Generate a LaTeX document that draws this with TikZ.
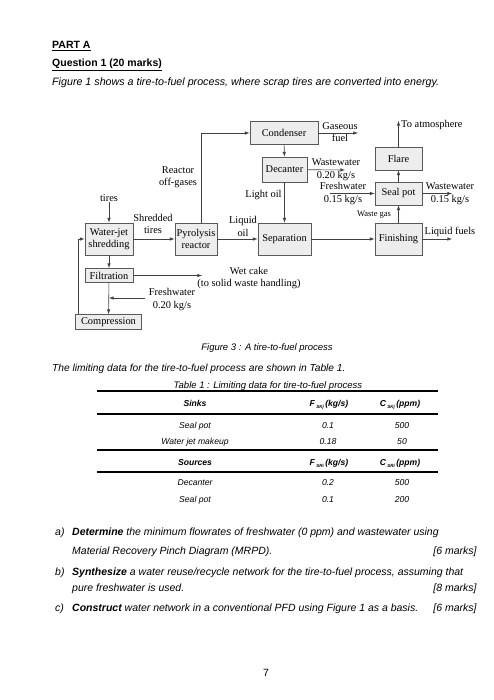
\documentclass[tikz,border=0pt]{standalone}
\usepackage{fontspec}
\setmainfont{Liberation Sans}
\newfontfamily\pfdfont{Liberation Serif}
\usetikzlibrary{arrows,positioning}

\newcommand{\pfdsize}{\pfdfont\fontsize{10.4}{12.5}\selectfont}
\newcommand{\docsize}{\fontsize{10.5}{12}\selectfont}
\newcommand{\tabsize}{\fontsize{8.6}{10}\selectfont}
\newcommand{\subs}[1]{\raisebox{-2.5pt}{\fontsize{4.5}{5}\selectfont #1}}

\begin{document}
\begin{tikzpicture}[x=1pt,y=-1pt,
    unit/.style={rectangle, draw=black!65, fill=black!7, line width=0.9pt, inner sep=1pt, align=center, font=\pfdsize},
    lbl/.style={inner sep=0pt, align=center, font=\pfdsize},
    flow/.style={->, >=latex, black!75, line width=0.6pt},
    txt/.style={anchor=base west, inner sep=0pt, font=\docsize},
    cell/.style={anchor=base, inner sep=0pt, font=\tabsize\itshape},
    head/.style={cell, font=\tabsize\bfseries\itshape},
    rule/.style={line width=1.2pt}]
  \useasboundingbox (0,0) rectangle (493,700);

  % heading
  \node[txt] (parta) at (52,49) {\textbf{\underline{PART A}}};
  \node[txt] (quest) at (52,67) {\textbf{\underline{Question 1 (20 marks)}}};
  \node[txt, font=\fontsize{10.7}{12}\selectfont] (intro) at (52,86) {\textit{Figure 1 shows a tire-to-fuel process, where scrap tires are converted into energy.}};

  % process units
  \node[unit, minimum width=68, minimum height=23] (cond) at (284,133) {Condenser};
  \node[unit, minimum width=45, minimum height=25] (dec) at (284.5,169.5) {Decanter};
  \node[unit, minimum width=47, minimum height=23] (flare) at (398.5,158.5) {Flare};
  \node[unit, minimum width=47, minimum height=23] (seal) at (398.5,193.5) {Seal pot};
  \node[unit, minimum width=47, minimum height=32] (fin) at (398.5,239) {Finishing};
  \node[unit, minimum width=53, minimum height=32] (sep) at (284.5,239) {Separation};
  \node[unit, minimum width=42, minimum height=32] (pyro) at (196,239) {Pyrolysis\\reactor};
  \node[unit, minimum width=48, minimum height=32] (wj) at (109,239) {Water-jet\\shredding};
  \node[unit, minimum width=48, minimum height=14] (filt) at (109,275.5) {Filtration};
  \node[unit, minimum width=66, minimum height=15] (comp) at (108.5,322) {Compression};

  % stream labels
  \node[lbl] (gas) at (340,132) {Gaseous\\fuel};
  \node[lbl] (ww1) at (336,169.5) {Wastewater\\0.20 kg/s};
  \node[lbl] (fw1) at (343,193.5) {Freshwater\\0.15 kg/s};
  \node[lbl] (ww2) at (450,193.5) {Wastewater\\0.15 kg/s};
  \node[lbl, anchor=west] (atm) at (401,125) {To atmosphere};
  \node[lbl, font=\pfdfont\fontsize{8.5}{10}\selectfont] (wgas) at (374,215) {Waste gas};
  \node[lbl] (fuels) at (450,232) {Liquid fuels};
  \node[lbl] (lightoil) at (263.5,195) {Light oil};
  \node[lbl] (liqoil) at (243,226.5) {Liquid\\oil};
  \node[lbl] (offgas) at (178,177) {Reactor\\off-gases};
  \node[lbl] (tires) at (109,198) {tires};
  \node[lbl] (shred) at (153,224) {Shredded\\tires};
  \node[lbl] (cake) at (249,278) {Wet cake\\(to solid waste handling)};
  \node[lbl] (fw2) at (172,299.5) {Freshwater\\0.20 kg/s};

  % free ends
  \coordinate (gasend) at (358,133);
  \coordinate (ww1end) at (345,170);
  \coordinate (atmend) at (398.5,121);
  \coordinate (fw1start) at (330,193.5);
  \coordinate (ww2end) at (452,193.5);
  \coordinate (fuelend) at (452,239);
  \coordinate (cakeend) at (202,275.5);
  \coordinate (fw2start) at (145,298);
  \coordinate (fw2tap) at (109,298);

  % streams
  \draw[flow] (cond) -- (gasend);
  \draw[flow] (cond) -- (dec);
  \draw[flow] (dec) -- (ww1end);
  \draw[flow] (dec) -- (sep);
  \draw[flow] (flare) -- (atmend);
  \draw[flow] (seal) -- (flare);
  \draw[flow] (fw1start) -- (seal);
  \draw[flow] (seal) -- (ww2end);
  \draw[flow] (fin) -- (seal);
  \draw[flow] (fin) -- (fuelend);
  \draw[flow] (sep) -- (fin);
  \draw[flow] (pyro) -- (sep);
  \draw[flow] ([xshift=5]pyro.north) |- (cond.west);
  \draw[flow] (tires) -- (wj);
  \draw[flow] (wj) -- (pyro);
  \draw[flow] (wj) -- (filt);
  \draw[flow] (filt) -- (cakeend);
  \draw[flow] (filt) -- (comp);
  \draw[flow] (fw2start) -- (fw2tap);
  \draw[flow] ([xshift=3]comp.north west) |- (wj.west);

  % caption and table
  \node[anchor=base, inner sep=0pt, font=\fontsize{9.5}{11}\selectfont] (figcap) at (267,350) {\textit{Figure 3 : A tire-to-fuel process}};
  \node[txt, font=\fontsize{10.2}{12}\selectfont] (limit) at (52,371) {\textit{The limiting data for the tire-to-fuel process are shown in Table 1.}};
  \node[anchor=base, inner sep=0pt, font=\fontsize{9.5}{11}\selectfont] (tabcap) at (268,388) {\textit{\underline{Table 1 : Limiting data for tire-to-fuel process}}};
  \draw[rule] (97,391) -- (438,391);
  \node[head] (sinkh) at (195,406) {Sinks};
  \node[head] (fskh) at (329,406) {F\,\subs{SKj}\,(kg/s)};
  \node[head] (cskh) at (400,406) {C\,\subs{SKj}\,(ppm)};
  \draw[rule] (97,414) -- (438,414);
  \node[cell] (sk1) at (195,428) {Seal pot};
  \node[cell] (sk1f) at (328,428) {0.1};
  \node[cell] (sk1c) at (402,428) {500};
  \node[cell] (sk2) at (195,444) {Water jet makeup};
  \node[cell] (sk2f) at (328,444) {0.18};
  \node[cell] (sk2c) at (402,444) {50};
  \draw[rule] (97,450) -- (438,450);
  \node[head] (srch) at (195,465) {Sources};
  \node[head] (fsrh) at (329,465) {F\,\subs{SRi}\,(kg/s)};
  \node[head] (csrh) at (400,465) {C\,\subs{SRi}\,(ppm)};
  \draw[rule] (97,472) -- (438,472);
  \node[cell] (sr1) at (195,485) {Decanter};
  \node[cell] (sr1f) at (328,485) {0.2};
  \node[cell] (sr1c) at (402,485) {500};
  \node[cell] (sr2) at (195,502) {Seal pot};
  \node[cell] (sr2f) at (328,502) {0.1};
  \node[cell] (sr2c) at (402,502) {200};

  % questions
  \node[txt] (qa) at (55,535) {\textit{a)}};
  \node[txt] (qa1) at (72,535) {\textit{\textbf{Determine} the minimum flowrates of freshwater (0 ppm) and wastewater using}};
  \node[txt] (qa2) at (72,554) {\textit{Material Recovery Pinch Diagram (MRPD).}};
  \node[txt, anchor=base east] (qam) at (477,554) {\textit{[6 marks]}};
  \node[txt] (qb) at (55,575) {\textit{b)}};
  \node[txt] (qb1) at (72,575) {\textit{\textbf{Synthesize} a water reuse/recycle network for the tire-to-fuel process, assuming that}};
  \node[txt] (qb2) at (72,591) {\textit{pure freshwater is used.}};
  \node[txt, anchor=base east] (qbm) at (477,591) {\textit{[8 marks]}};
  \node[txt] (qc) at (55,611) {\textit{c)}};
  \node[txt] (qc1) at (72,611) {\textit{\textbf{Construct} water network in a conventional PFD using Figure 1 as a basis.}};
  \node[txt, anchor=base east] (qcm) at (477,611) {\textit{[6 marks]}};

  \node[anchor=base, inner sep=0pt, font=\docsize] (pageno) at (266,676) {7};
\end{tikzpicture}
\end{document}
